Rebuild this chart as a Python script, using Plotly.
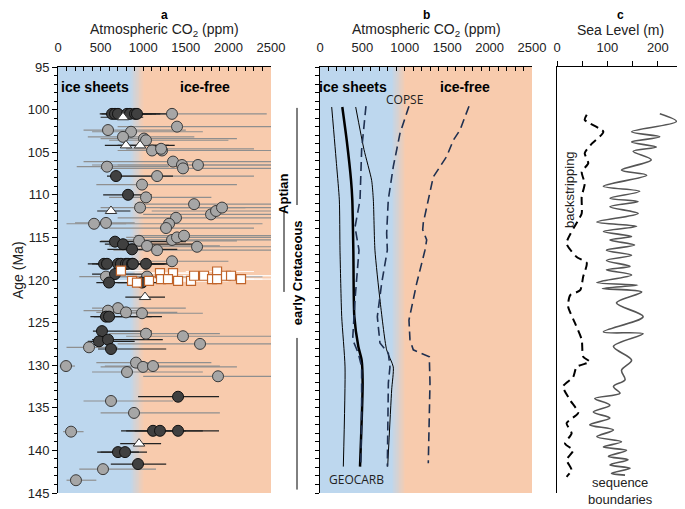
import numpy as np                         # for the background gradient steps
import plotly.graph_objects as go          # for building the figure

# ── Panel a: proxy CO2 estimates (age in Ma, CO2 in ppm, error range lo/hi) ────

DARK_AGE = [100.5, 100.5, 100.5, 100.5, 100.5, 100.5, 100.5, 107.8, 110.0, 115.5,
            115.8, 116.4, 118.1, 118.1, 118.1, 118.1, 118.1, 118.1, 118.1, 118.1,
            118.1, 119.3, 120.3, 120.3, 124.3, 124.3, 126.0, 127.2, 127.0, 128.1,
            133.7, 137.7, 137.7, 137.7, 140.2, 140.2, 141.6]
DARK_CO2 = [634, 669, 704, 810, 845, 904, 927, 681, 822, 669,
            763, 869, 540, 575, 704, 739, 798, 822, 869, 880,
            1033, 669, 599, 986, 563, 599, 516, 481, 587, 622,
            1409, 1115, 1197, 1409, 704, 787, 939]
DARK_LO  = [510, 490, 560, 600, 650, 700, 750, 575, 530, 490,
            550, 580, 350, 400, 450, 500, 550, 600, 600, 650,
            700, 400, 450, 700, 380, 420, 410, 350, 400, 470,
            940, 740, 800, 900, 460, 500, 620]
DARK_HI  = [1000, 900, 1280, 1100, 1050, 1200, 1150, 1350, 1100, 1500,
            1600, 1400, 900, 1000, 1150, 1100, 1250, 1200, 1300, 1250,
            1350, 1000, 900, 1200, 1220, 1100, 1100, 900, 1230, 1270,
            1890, 1500, 1700, 1890, 950, 1045, 1270]

GRAY_AGE = [100.5, 102.0, 102.4, 102.6, 103.2, 103.4, 103.6, 104.8, 104.8, 104.6,
            106.1, 106.5, 106.9, 106.5, 106.7, 107.8, 108.8, 110.3, 111.5, 111.1,
            112.3, 111.9, 111.5, 112.7, 113.4, 113.9, 113.4, 113.3, 115.4, 116.0,
            116.5, 115.3, 115.0, 114.8, 116.1, 117.8, 119.6, 119.6, 123.3, 123.8,
            123.9, 123.6, 126.3, 126.6, 127.5, 127.9, 129.7, 130.2, 130.1, 130.1,
            130.8, 131.3, 134.2, 135.6, 137.8, 142.2, 143.5]
GRAY_CO2 = [1338, 1397, 587, 857, 763, 1010, 1033, 1104, 1221, 1210,
            1350, 1455, 1467, 1643, 575, 1163, 986, 1033, 963, 1597,
            1796, 1855, 1925, 1385, 1303, 1268, 423, 563, 951, 1045,
            1163, 1338, 1397, 1479, 1632, 1338, 563, 1045, 704, 798,
            986, 587, 1033, 1467, 1667, 364, 916, 998, 1115, 94,
            810, 1878, 622, 892, 153, 528, 211]
GRAY_LO  = [900, 700, 300, 400, 350, 500, 600, 700, 750, 800,
            300, 400, 500, 700, 220, 700, 450, 600, 500, 900,
            1000, 1100, 1200, 700, 600, 600, 100, 200, 500, 600,
            650, 700, 800, 900, 1000, 800, 250, 600, 400, 450,
            600, 300, 600, 800, 700, 100, 450, 500, 550, 20,
            400, 1000, 300, 500, 60, 250, 100]
GRAY_HI  = [2450, 2500, 1500, 1700, 1600, 2100, 2000, 2500, 2500, 2300,
            2500, 2500, 2500, 2500, 1300, 2300, 2100, 1800, 2200, 2500,
            2500, 2500, 2500, 2500, 2400, 2300, 800, 900, 2100, 1900,
            2500, 2500, 2500, 2500, 2500, 2000, 1200, 2400, 1500, 1400,
            1700, 1000, 1900, 2500, 2500, 700, 1800, 2100, 1900, 200,
            1700, 2500, 1350, 1900, 300, 1150, 450]

TRI_AGE = [100.9, 104.2, 104.2, 111.9, 122.0, 139.2]
TRI_CO2 = [763, 798, 963, 622, 1021, 951]
TRI_LO  = [500, 550, 700, 460, 790, 730]
TRI_HI  = [1000, 1370, 1300, 850, 1256, 1210]

SQ_AGE = [118.9, 119.2, 119.2, 119.0, 120.1, 120.3, 120.1, 119.9, 119.9, 120.1,
          120.1, 119.5, 119.5, 119.9, 119.9, 119.5, 119.5, 119.9]
SQ_CO2 = [739, 1197, 1350, 1867, 869, 927, 1068, 1209, 1291, 1409,
          1561, 1597, 1714, 1808, 1867, 1972, 2031, 2148]
SQ_LO  = [600, 900, 1100, 1500, 650, 700, 800, 900, 1000, 1100,
          1200, 1300, 1400, 1500, 1550, 1650, 1700, 1800]
SQ_HI  = [1000, 1600, 1700, 2300, 1200, 1250, 1400, 1600, 1700, 1800,
          2000, 2100, 2200, 2300, 2400, 2500, 2500, 2500]

# ── Panel b: model CO2 curves ─────────────────────────────────────────────────

GEO_LOW_AGE  = [99.7, 106.7, 110.6, 116.5, 124.3, 130.2, 141.9]
GEO_LOW_CO2  = [138, 197, 228, 236, 256, 295, 275]
GEO_MID_AGE  = [99.7, 103.6, 108.3, 110.6, 116.5, 124.3, 127.8, 129.4, 132.1, 141.9]
GEO_MID_CO2  = [263, 315, 366, 381, 393, 405, 452, 491, 503, 472]
GEO_HIGH_AGE = [99.7, 104.7, 108.3, 110.6, 116.5, 122.3, 128.2, 130.2, 132.9, 141.9]
GEO_HIGH_CO2 = [421, 519, 609, 629, 648, 707, 786, 864, 845, 798]

COP_LOW_AGE  = [99.6, 104.7, 110.6, 113.8, 116.5, 122.3, 127.0, 128.6, 130.2, 136.0, 141.9]
COP_LOW_CO2  = [542, 491, 472, 413, 460, 413, 385, 452, 491, 491, 480]
COP_MID_AGE  = [99.6, 102.8, 106.7, 110.6, 114.5, 116.5, 120.4, 124.3, 127.4, 128.6, 130.2, 132.1, 141.9]
COP_MID_CO2  = [1049, 943, 864, 805, 786, 794, 727, 676, 707, 806, 825, 806, 794]
COP_HIGH_AGE = [99.6, 102.4, 103.6, 105.5, 107.9, 110.6, 113.3, 114.1, 115.3, 116.5,
                120.4, 124.7, 127.0, 128.2, 129.0, 132.1, 141.5]
COP_HIGH_CO2 = [1757, 1651, 1572, 1494, 1336, 1277, 1218, 1211, 1258, 1238,
                1140, 1049, 1061, 1100, 1289, 1297, 1277]

# ── Panel c: sea level (m) ────────────────────────────────────────────────────

SEQ_AGE = [100.5, 101.4, 102.6, 103.2, 103.8, 104.4, 104.9, 105.9, 107.1, 107.7,
           109.0, 109.6, 110.4, 110.8, 111.4, 112.2, 113.2, 113.7, 114.3, 114.9,
           115.3, 115.9, 116.5, 117.1, 117.7, 118.4, 118.8, 119.4, 120.3, 120.6,
           121.0, 121.4, 122.7, 124.3, 126.1, 126.3, 127.8, 129.4, 130.6, 131.7,
           132.5, 133.3, 133.9, 134.7, 135.5, 136.2, 137.0, 137.6, 138.4, 139.0,
           139.6, 140.0, 140.7, 141.1, 141.7, 142.1, 142.7, 142.9]
SEQ_SL  = [204, 237, 148, 204, 148, 197, 151, 187, 128, 178,
           92, 164, 105, 161, 105, 161, 79, 158, 92, 148,
           105, 154, 98, 148, 98, 145, 98, 148, 79, 160,
           90, 168, 118, 171, 92, 171, 112, 148, 128, 135,
           112, 125, 75, 105, 72, 105, 65, 112, 79, 128,
           92, 138, 102, 141, 105, 145, 108, 135]

BACK_AGE = [100.6, 101.2, 102.6, 104.0, 105.1, 106.3, 107.3, 108.7, 110.2, 112.2,
            113.0, 115.7, 117.3, 118.0, 119.6, 121.2, 121.8, 123.1, 125.1, 127.0,
            129.0, 129.6, 130.2, 131.4, 132.5, 134.1, 135.6, 136.8, 138.0, 139.2,
            140.0, 141.1, 142.3, 143.1]
BACK_SL  = [59, 55, 92, 69, 55, 62, 49, 55, 49, 49,
            42, 19, 39, 59, 52, 46, 26, 22, 36, 49,
            52, 65, 39, 32, 12, 26, 42, 19, 29, 16,
            32, 19, 29, 19]

# ── Style ─────────────────────────────────────────────────────────────────────

FONT     = "Liberation Sans"
BLUE     = "rgb(189,215,238)"     # ice sheets background
ORANGE   = "rgb(248,203,173)"     # ice-free background
ICE_LO   = 840                    # CO2 where the colour blend starts
ICE_HI   = 1010                   # CO2 where the colour blend ends
NAVY     = "#1f3050"              # COPSE dashed lines
PAGE     = 8                      # default page margin round the figure
W, H     = 685 - PAGE, 509 - PAGE  # figure size that fits the window


def px(x):
    """Window x pixel -> paper fraction."""
    return (x - PAGE) / W


def py(y):
    """Window y pixel -> paper fraction."""
    return 1 - (y - PAGE) / H


DOM_A = [px(58), px(271)]         # panel domains in paper units
DOM_B = [px(320), px(532)]
DOM_C = [px(557), px(683)]
DOM_Y = [py(493), py(67)]


def segments(age, lo, hi):
    """Turn error ranges into one broken line (None between segments)."""
    xs, ys = [], []
    for a, l, h in zip(age, lo, hi):
        xs += [l, h, None]
        ys += [a, a, None]
    return xs, ys


def label(text, x, y, xref="paper", yref="paper", size=13, color="#222", angle=0, family=FONT):
    """Centred text annotation."""
    return dict(text=text, x=x, y=y, xref=xref, yref=yref, showarrow=False,
                xanchor="center", yanchor="middle", textangle=angle,
                font=dict(size=size, color=color, family=family))


fig = go.Figure()

# ── Background gradient (ice sheets -> ice-free) ─────────────────────────────

grad_x = np.arange(0, 2501, 10)
grad_z = np.clip((grad_x - ICE_LO) / (ICE_HI - ICE_LO), 0, 1)
for xa, ya in [("x", "y"), ("x2", "y2")]:
    fig.add_trace(go.Heatmap(
        x=grad_x, y=[95, 145], z=[grad_z, grad_z],
        colorscale=[[0, BLUE], [1, ORANGE]], zmin=0, zmax=1,
        showscale=False, hoverinfo="skip", xaxis=xa, yaxis=ya,
    ))

# ── Panel a: error bars, then markers ────────────────────────────────────────

for age, lo, hi, col, wid in [
    (GRAY_AGE, GRAY_LO, GRAY_HI, "#8f8f8f", 1.2),
    (SQ_AGE, SQ_LO, SQ_HI, "rgba(255,255,255,0.85)", 1.2),
    (DARK_AGE, DARK_LO, DARK_HI, "#222222", 1.2),
    (TRI_AGE, TRI_LO, TRI_HI, "#222222", 1.2),
]:
    sx, sy = segments(age, lo, hi)
    fig.add_trace(go.Scatter(x=sx, y=sy, mode="lines", line=dict(color=col, width=wid),
                             hoverinfo="skip", showlegend=False, xaxis="x", yaxis="y"))

fig.add_trace(go.Scatter(x=GRAY_CO2, y=GRAY_AGE, mode="markers", showlegend=False,
                         marker=dict(size=11, color="#a6a6a6", line=dict(color="#3a3a3a", width=1))))
fig.add_trace(go.Scatter(x=DARK_CO2, y=DARK_AGE, mode="markers", showlegend=False,
                         marker=dict(size=11, color="#404040", line=dict(color="#111111", width=1))))
fig.add_trace(go.Scatter(x=TRI_CO2, y=TRI_AGE, mode="markers", showlegend=False,
                         marker=dict(size=10, symbol="triangle-up", color="white",
                                     line=dict(color="#333333", width=1))))
fig.add_trace(go.Scatter(x=SQ_CO2, y=SQ_AGE, mode="markers", showlegend=False,
                         marker=dict(size=9, symbol="square", color="white",
                                     line=dict(color="#c0642a", width=1.2))))

# ── Panel b: GEOCARB (solid) and COPSE (dashed) ──────────────────────────────

for age, co2, wid in [(GEO_LOW_AGE, GEO_LOW_CO2, 1), (GEO_MID_AGE, GEO_MID_CO2, 2.5),
                      (GEO_HIGH_AGE, GEO_HIGH_CO2, 1)]:
    fig.add_trace(go.Scatter(x=co2, y=age, mode="lines", showlegend=False,
                             line=dict(color="black", width=wid, shape="spline", smoothing=0.6),
                             xaxis="x2", yaxis="y2"))
for age, co2 in [(COP_LOW_AGE, COP_LOW_CO2), (COP_MID_AGE, COP_MID_CO2),
                 (COP_HIGH_AGE, COP_HIGH_CO2)]:
    fig.add_trace(go.Scatter(x=co2, y=age, mode="lines", showlegend=False,
                             line=dict(color=NAVY, width=1.6, dash="9px,5px"),
                             xaxis="x2", yaxis="y2"))

# ── Panel c: sea level curves ────────────────────────────────────────────────

fig.add_trace(go.Scatter(x=SEQ_SL, y=SEQ_AGE, mode="lines", showlegend=False,
                         line=dict(color="#555555", width=1.6, shape="spline", smoothing=0.9),
                         xaxis="x3", yaxis="y3"))
fig.add_trace(go.Scatter(x=BACK_SL, y=BACK_AGE, mode="lines", showlegend=False,
                         line=dict(color="black", width=2, dash="8px,5px", shape="spline", smoothing=0.6),
                         xaxis="x3", yaxis="y3"))

# ── Axes ──────────────────────────────────────────────────────────────────────

co2_axis = dict(range=[0, 2500], side="top", showline=True, linecolor="black", linewidth=1,
                tickvals=[0, 500, 1000, 1500, 2000, 2500], ticks="inside", ticklen=4,
                tickcolor="black", minor=dict(dtick=100, ticks="inside", ticklen=4, tickcolor="black"),
                showgrid=False, zeroline=False, tickfont=dict(size=13, color="#222"),
                ticklabelstandoff=9, automargin=False)
age_axis = dict(range=[145, 95], showline=True, linecolor="black", linewidth=1,
                showgrid=False, zeroline=False, domain=DOM_Y, automargin=False)

fig.update_layout(
    width=W, height=H, margin=dict(l=0, r=0, t=0, b=0),
    paper_bgcolor="white", plot_bgcolor="rgba(0,0,0,0)",
    font=dict(family=FONT, size=13, color="#222"),
    xaxis=dict(co2_axis, domain=DOM_A, anchor="y"),
    xaxis2=dict(co2_axis, domain=DOM_B, anchor="y2"),
    xaxis3=dict(range=[0, 250], side="top", domain=DOM_C, anchor="y3", showline=True,
                linecolor="black", linewidth=1, tickvals=[0, 100, 200], ticks="outside",
                ticklen=5, tickcolor="black", automargin=False, ticklabelstandoff=4,
                minor=dict(dtick=50, ticks="outside", ticklen=5, tickcolor="black"),
                showgrid=False, zeroline=False, tickfont=dict(size=13, color="#222")),
    yaxis=dict(age_axis, anchor="x", tickvals=list(range(95, 146, 5)), ticks="outside",
               ticklen=5, tickcolor="black", tickfont=dict(size=13, color="#222"),
               minor=dict(dtick=1, ticks="outside", ticklen=3, tickcolor="black")),
    yaxis2=dict(age_axis, anchor="x2", dtick=1, ticks="outside", ticklen=4,
                tickcolor="black", showticklabels=False),
    yaxis3=dict(age_axis, anchor="x3", ticks="", showticklabels=False),
)

# ── Text ──────────────────────────────────────────────────────────────────────

ann = []
for xc, letter, title in [(164, "a", "Atmospheric CO<sub>2</sub> (ppm)"),
                          (426, "b", "Atmospheric CO<sub>2</sub> (ppm)"),
                          (620, "c", "Sea Level (m)")]:
    ann.append(label(f"<b>{letter}</b>", px(xc), py(15), size=12, color="black"))
    ann.append(label(title, px(xc), py(30.5), size=14))

for xr, yr, xs, xf in [("x", "y", 440, 1726), ("x2", "y2", 389, 1710)]:
    ann.append(label("<b>ice sheets</b>", xs, 97.4, xr, yr, size=14, color="black"))
    ann.append(label("<b>ice-free</b>", xf, 97.4, xr, yr, size=14, color="black"))

ann += [
    label("COPSE", 1002, 98.8, "x2", "y2", size=12, family="Open Sans"),
    label("GEOCARB", 436, 143.4, "x2", "y2", size=12, family="Open Sans"),
    label("Age (Ma)", px(18), py(270), size=14, angle=-90),
    label("<b>Aptian</b>", px(284), 109.9, "paper", "y", color="black", angle=-90),
    label("<b>early Cretaceous</b>", px(297), 119.2, "paper", "y", color="black", angle=-90),
    label("backstripping", px(569), py(190), angle=-90),
    label("sequence<br>boundaries", px(620), py(491)),
]
fig.update_layout(annotations=ann)

# period brackets next to the age axis
for xp, y0, y1 in [(284, 111.8, 121.4), (297, 99.8, 111.2), (297, 126.8, 144.6)]:
    fig.add_shape(type="line", xref="paper", yref="y", x0=px(xp), x1=px(xp), y0=y0, y1=y1,
                  line=dict(color="black", width=1))

fig.write_html("out.html")
